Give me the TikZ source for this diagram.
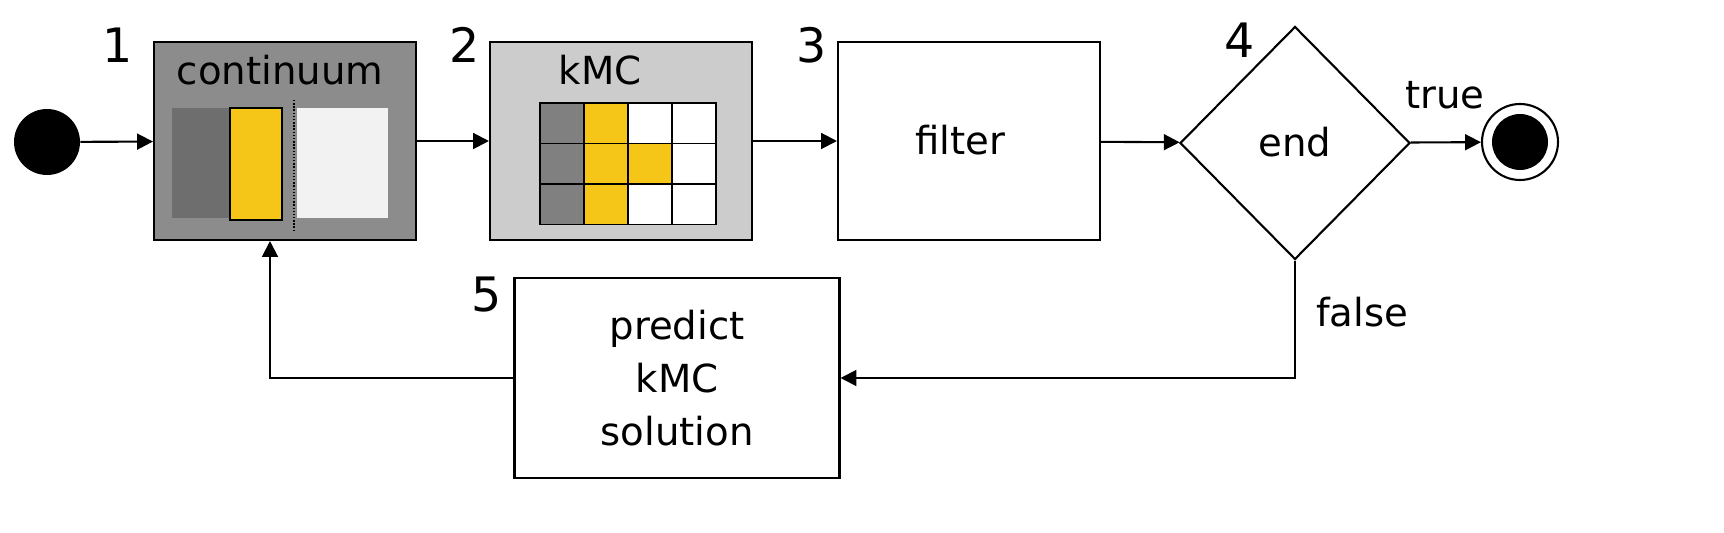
\documentclass[tikz,border=0pt]{standalone}
\usepackage{fontspec}
\setmainfont{DejaVu Sans}
\usetikzlibrary{arrows.meta,shapes.geometric}
\definecolor{gold}{RGB}{245,197,24}
\begin{document}
\begin{tikzpicture}[x=0.02cm,y=-0.02cm,
  box/.style={draw,line width=1.2pt,minimum width=5.24cm,minimum height=3.96cm,inner sep=0pt},
  arr/.style={-{Triangle[length=9pt,width=9pt]},line width=1.2pt},
  txt/.style={font=\fontsize{22}{30}\selectfont},
  num/.style={font=\fontsize{27}{30}\selectfont}]
\useasboundingbox (0,0) rectangle (1724,533);
\node[circle,fill=black,minimum size=1.32cm] (s) at (47,142) {};
\node[box,fill=black!45] (b1) at (285,141) {};
\fill[black!57] (172,108) rectangle (230,218);
\draw[fill=gold,line width=1pt] (230,108) rectangle (282,220);
\fill[black!5] (297,108) rectangle (388,218);
\draw[densely dotted,line width=0.8pt] (294,100) -- (294,230);
\node[txt] at (280,70) {continuum};
\node[num] at (118,45) {1};
\node[box,fill=black!20] (b2) at (621,141) {};
\node[txt] at (600,70) {kMC};
\foreach \c in {0,1,2,3}{\foreach \r in {0,1,2}{
  \pgfmathsetmacro\xx{540+44*\c}\pgfmathsetmacro\yy{103+40.5*\r}
  \def\col{white}
  \ifnum\c=0 \def\col{black!50}\fi
  \ifnum\c=1 \def\col{gold}\fi
  \ifnum\c=2 \ifnum\r=1 \def\col{gold}\fi\fi
  \draw[fill=\col,line width=1pt] (\xx,\yy) rectangle ++(44,40.5);}}
\node[num] at (465,45) {2};
\node[box] (b3) at (969,141) {};
\node[txt] at (960,140) {filter};
\node[num] at (812,45) {3};
\node[diamond,draw,line width=1.2pt,minimum width=4.6cm,minimum height=4.66cm,inner sep=0pt] (d) at (1295,143) {};
\node[txt] at (1295,142) {end};
\node[num] at (1240,40) {4};
\node[circle,draw,line width=1.2pt,minimum size=1.52cm,inner sep=0pt] (e) at (1520,142) {};
\node[circle,fill=black,minimum size=1.12cm] at (e) {};
\node[txt] at (1445,95) {true};
\node[txt] at (1362,312) {false};
\node[box,minimum width=6.5cm,minimum height=4cm,txt,align=center] (b5) at (677,378) {predict\\kMC\\solution};
\node[num] at (487,295) {5};
\draw[arr] (s) -- (b1);
\draw[arr] (b1) -- (b2);
\draw[arr] (b2) -- (b3);
\draw[arr] (b3) -- (d);
\draw[arr] (d) -- (e);
\draw[arr] (d.south) |- (b5.east);
\draw[arr] (b5.west) -| (b1.south -| 270,0);
\end{tikzpicture}
\end{document}
